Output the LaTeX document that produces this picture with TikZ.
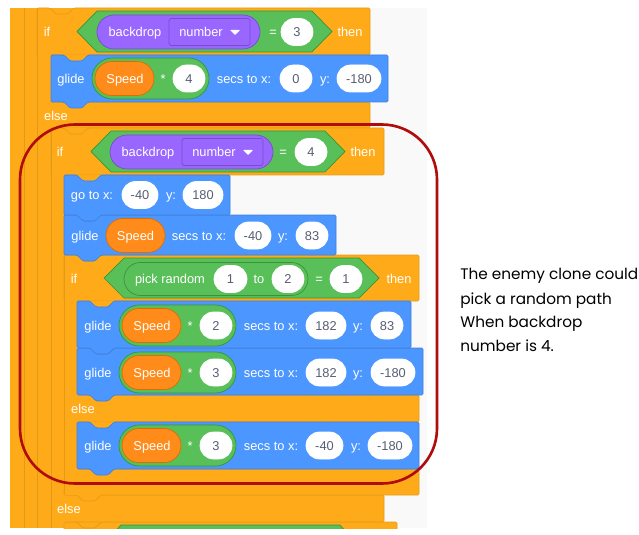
\documentclass[tikz,border=0pt]{standalone}
\usepackage{fontspec}
\setmainfont{Liberation Sans}
\newfontfamily\notefont{Poppins}

\definecolor{ctrl}{HTML}{FFAB19}
\definecolor{ctrlline}{HTML}{E39B17}
\definecolor{motion}{HTML}{4C97FF}
\definecolor{motionline}{HTML}{4280D7}
\definecolor{oper}{HTML}{59C059}
\definecolor{operline}{HTML}{389438}
\definecolor{looks}{HTML}{9966FF}
\definecolor{looksline}{HTML}{774DCB}
\definecolor{vari}{HTML}{FF8C1A}
\definecolor{variline}{HTML}{DB6E00}
\definecolor{ringred}{HTML}{B00C0C}
\definecolor{areagrey}{HTML}{F9F9F9}
\definecolor{numgrey}{HTML}{575E75}

\tikzset{
  blocktext/.style={text=white,font=\fontsize{7.3}{9}\selectfont,inner sep=0pt,text height=5.2pt,text depth=0pt},
  numtext/.style={text=numgrey,font=\fontsize{7.3}{9}\selectfont,inner sep=0pt,text height=5.2pt,text depth=0pt},
  noteline/.style={anchor=west,text=black,font=\notefont\fontsize{8.7}{10}\selectfont,inner sep=0pt,text height=6.4pt,text depth=0pt},
  ctrlblock/.style={fill=ctrl,draw=ctrlline,line width=0.4pt,rounded corners=0.8pt},
  motionblock/.style={fill=motion,draw=motionline,line width=0.4pt,rounded corners=0.8pt},
  hexblock/.style={fill=oper,draw=operline,line width=0.4pt},
  armline/.style={draw=ctrlline,line width=0.4pt},
}

% command block with notch and tab: x1,y1,x2,y2
\newcommand{\stackblock}[4]{
  \fill [ctrl] ({#1+12},-#2) rectangle ({#1+38},{-#2-7});
  \draw [motionblock] (#1,-#2) -- ({#1+13},-#2) -- ({#1+19},{-#2-6}) -- ({#1+31},{-#2-6}) -- ({#1+37},-#2)
    -- (#3,-#2) -- (#3,-#4) -- ({#1+37},-#4) -- ({#1+31},{-#4-6}) -- ({#1+19},{-#4-6}) -- ({#1+13},-#4) -- (#1,-#4) -- cycle;
}
% head of an if: notch on top, opens into its arm
\newcommand{\headblock}[4]{
  \fill [ctrl] ({#1+12},-#2) rectangle ({#1+38},{-#2-7});
  \draw [ctrlblock] (#1,-#4) -- (#1,-#2) -- ({#1+13},-#2) -- ({#1+19},{-#2-6}) -- ({#1+31},{-#2-6}) -- ({#1+37},-#2)
    -- (#3,-#2) -- (#3,-#4) -- ({#1+13},-#4);
}
% else row
\newcommand{\elsebar}[4]{
  \draw [ctrlblock] ({#1+13},-#2) -- (#3,-#2) -- (#3,-#4) -- ({#1+13},-#4);
  \fill [ctrl] (#1,-#2) rectangle ({#1+14},-#4);
}
% closing row of an if, with tab
\newcommand{\closebar}[4]{
  \draw [ctrlblock] ({#1+13},-#2) -- (#3,-#2) -- (#3,-#4) -- ({#1+37},-#4) -- ({#1+31},{-#4-6}) -- ({#1+19},{-#4-6}) -- ({#1+13},-#4) -- (#1,-#4) -- (#1,{-#4+6});
  \fill [ctrl] (#1,-#2) rectangle ({#1+14},{-#4+0.3});
}
% condition hexagon: xleft,xright,ytop,ybottom
\newcommand{\condhex}[4]{
  \draw [hexblock] (#1,{-(#3+#4)/2}) -- ({#1+20},-#3) -- ({#2-20},-#3) -- (#2,{-(#3+#4)/2}) -- ({#2-20},-#4) -- ({#1+20},-#4) -- cycle;
}
% rounded field: x1,x2,ycentre,height,fill,line
\newcommand{\pill}[6]{
  \draw [fill=#5,draw=#6,line width=0.4pt,rounded corners={(#4)/2*0.02cm-0.01pt}] ({#1},{-#3+#4/2}) rectangle ({#2},{-#3-#4/2});
}
% white number field
\newcommand{\numfield}[5]{
  \pill{#2}{#3}{#4}{27}{white}{white}
  \node [numtext] (#1) at ({(#2+#3)/2},-#4) {#5};
}
% green field with Speed inside
\newcommand{\speedtimes}[4]{
  \pill{#2}{#2+117}{#3}{41}{oper}{operline}
  \pill{#2+3}{#2+62}{#3}{34}{vari}{variline}
  \node [blocktext] (speed#1) at ({#2+33},-#3) {Speed};
  \node [blocktext] (star#1) at ({#2+71},-#3) {*};
  \numfield{mult#1}{#2+81}{#2+113}{#3}{#4}
}
% purple reporter
\newcommand{\backdroprep}[3]{
  \pill{#2}{#2+163}{#3}{34}{looks}{looksline}
  \draw [looksline,line width=0.4pt,rounded corners=1pt] ({#2+72},{-#3+13.5}) rectangle ({#2+153},{-#3-13.5});
  \node [blocktext] (backdrop#1) at ({#2+38},-#3) {backdrop};
  \node [blocktext] (number#1) at ({#2+104},-#3) {number};
  \fill [white,rounded corners=0.3pt] ({#2+133},{-#3+2}) -- ({#2+143},{-#3+2}) -- ({#2+138},{-#3-3}) -- cycle;
}

\begin{document}
\begin{tikzpicture}[x=0.2mm,y=0.2mm]
  \useasboundingbox (0,0) rectangle (639,-535);
  \fill [areagrey] (10,-8) rectangle (427,-528);
  \begin{scope}
    \clip (10,-8) rectangle (427,-528);
    % arms and orange rows
    \fill [ctrl] (10,-8) rectangle (64,-528);
    \fill [ctrl] (64,-175) rectangle (77,-495);
    \headblock{64}{522}{397}{560}
    \elsebar{51}{495}{384}{522}
    \elsebar{37}{102}{370}{128}
    \headblock{37}{8}{370}{55}
    \headblock{51}{128}{384}{175}
    \closebar{64}{469}{419}{495}
    \elsebar{64}{395}{419}{422}
    \headblock{64}{255}{419}{301}
    \draw [armline] (24,-8) -- (24,-528) (37,-8) -- (37,-528) (51,-128) -- (51,-528) (64,-175) -- (64,-495);
    % motion blocks, lowest first
    \stackblock{77}{422}{419}{469}
    \stackblock{77}{348}{423}{395}
    \stackblock{77}{301}{411}{348}
    \stackblock{64}{215}{336}{255}
    \stackblock{64}{175}{230}{215}
    \stackblock{51}{55}{388}{102}
    \condhex{101}{360}{525}{570}
  \end{scope}

  % backdrop 3
  \node [blocktext] (if1) at (47,-32) {if};
  \condhex{77}{332}{11}{52}
  \backdroprep{a}{97}{32}
  \node [blocktext] (eq1) at (273,-32) {=};
  \numfield{three}{281}{313}{32}{3}
  \node [blocktext] (then1) at (350,-32) {then};
  \node [blocktext] (glide1) at (71,-78.5) {glide};
  \speedtimes{a}{92}{78.5}{4}
  \node [blocktext] (secs1) at (244,-78.5) {secs to x:};
  \numfield{xa}{280}{312}{78.5}{0}
  \node [blocktext] (ya) at (325,-78.5) {y:};
  \numfield{yb}{337}{381}{78.5}{-180}
  \node [blocktext] (else1) at (56,-116) {else};

  % backdrop 4
  \node [blocktext] (if2) at (60,-152) {if};
  \condhex{91}{345}{131}{172}
  \backdroprep{b}{110}{152}
  \node [blocktext] (eq2) at (283,-152) {=};
  \numfield{four}{295}{327}{152}{4}
  \node [blocktext] (then2) at (363,-152) {then};
  \node [blocktext] (goto) at (92,-195) {go to x:};
  \numfield{xb}{122}{158}{195}{-40}
  \node [blocktext] (yc) at (171,-195) {y:};
  \numfield{yd}{183}{223}{195}{180}
  \node [blocktext] (glide2) at (85,-235.5) {glide};
  \pill{106}{165}{235.5}{34}{vari}{variline}
  \node [blocktext] (speedb) at (135.5,-235.5) {Speed};
  \node [blocktext] (secs2) at (199,-235.5) {secs to x:};
  \numfield{xc}{235}{271}{235.5}{-40}
  \node [blocktext] (ye) at (283,-235.5) {y:};
  \numfield{yf}{296}{328}{235.5}{83}

  % random path
  \node [blocktext] (if3) at (74,-279) {if};
  \condhex{104}{379}{258}{298}
  \pill{124}{308}{279}{33}{oper}{operline}
  \node [blocktext] (pick) at (170,-279) {pick random};
  \numfield{one}{214}{247}{279}{1}
  \node [blocktext] (to) at (259,-279) {to};
  \numfield{two}{272}{304}{279}{2}
  \node [blocktext] (eq3) at (319,-279) {=};
  \numfield{onex}{330}{362}{279}{1}
  \node [blocktext] (then3) at (399,-279) {then};

  \node [blocktext] (glide3) at (98,-325.5) {glide};
  \speedtimes{c}{119}{325.5}{2}
  \node [blocktext] (secs3) at (271,-325.5) {secs to x:};
  \numfield{xd}{306}{346}{325.5}{182}
  \node [blocktext] (yg) at (358,-325.5) {y:};
  \numfield{yh}{371}{403}{325.5}{83}

  \node [blocktext] (glide4) at (98,-372.5) {glide};
  \speedtimes{d}{119}{372.5}{3}
  \node [blocktext] (secs4) at (271,-372.5) {secs to x:};
  \numfield{xe}{306}{346}{372.5}{182}
  \node [blocktext] (yi) at (358,-372.5) {y:};
  \numfield{yj}{371}{415}{372.5}{-180}

  \node [blocktext] (else3) at (83,-409) {else};
  \node [blocktext] (glide5) at (98,-445.5) {glide};
  \speedtimes{e}{119}{445.5}{3}
  \node [blocktext] (secs5) at (271,-445.5) {secs to x:};
  \numfield{xf}{306}{343}{445.5}{-40}
  \node [blocktext] (yk) at (356,-445.5) {y:};
  \numfield{yl}{368}{412}{445.5}{-180}
  \node [blocktext] (else2) at (69,-509) {else};

  % ring and note
  \draw [ringred,line width=1.5pt,rounded corners=1.1cm] (20,-124.5) rectangle (437,-483.5);
  \node [noteline] (note1) at (460,-274) {The enemy clone could};
  \node [noteline] (note2) at (460,-298.5) {pick a random path};
  \node [noteline] (note3) at (460,-322) {When backdrop};
  \node [noteline] (note4) at (460,-346) {number is 4.};
\end{tikzpicture}
\end{document}
